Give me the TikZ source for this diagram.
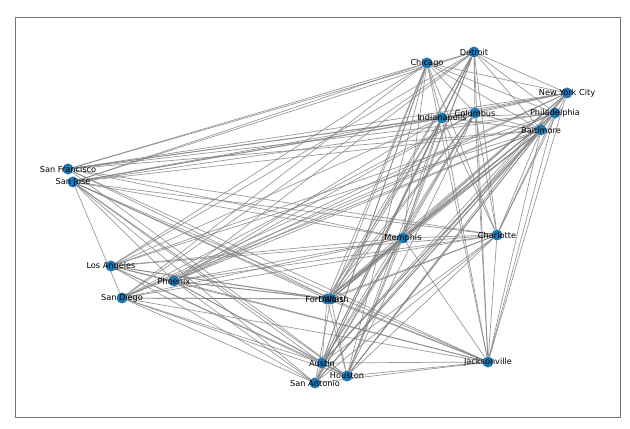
\documentclass[tikz,border=0pt]{standalone}
\usepackage{fontspec}
\setmainfont{DejaVu Sans}
\usetikzlibrary{backgrounds}
\definecolor{nodeblue}{HTML}{1F77B4}
\tikzset{
	city/.style={circle,fill=nodeblue,inner sep=0pt,minimum size=0.33cm},
	lbl/.style={font=\fontsize{7}{8}\selectfont,inner sep=0pt},
	edge/.style={gray,opacity=0.8,line width=0.6pt},
}
\begin{document}
\begin{tikzpicture}[x=0.03cm,y=-0.03cm]
	\useasboundingbox (0,0) rectangle (630,429);
	\draw[black!55,line width=0.7pt] (15,17) rectangle (620,417);
	%CITIES
	\node[city] (det) at (474,52) {};
	\node[city] (chi) at (427,63) {};
	\node[city] (nyc) at (567,93) {};
	\node[city] (col) at (475,113) {};
	\node[city] (ind) at (442,118) {};
	\node[city] (phi) at (555,113) {};
	\node[city] (bal) at (541,130) {};
	\node[city] (sf) at (68,169) {};
	\node[city] (sj) at (73,182) {};
	\node[city] (la) at (111,266) {};
	\node[city] (phx) at (174,281) {};
	\node[city] (sd) at (122,298) {};
	\node[city] (mem) at (403,238) {};
	\node[city] (cha) at (497,235) {};
	\node[city] (fw) at (327,299) {};
	\node[city] (dal) at (331,299) {};
	\node[city] (aus) at (322,363) {};
	\node[city] (hou) at (347,376) {};
	\node[city] (sa) at (315,383) {};
	\node[city] (jax) at (488,362) {};
	%ROUTES
	\begin{scope}[on background layer]
	\foreach \a/\b in {sf/chi,sf/det,sf/nyc,sf/col,sf/ind,sf/phi,sf/bal,sf/mem,sf/cha,sf/dal,sf/hou,sf/jax,
		sj/det,sj/chi,sj/ind,sj/col,sj/bal,sj/phi,sj/nyc,sj/mem,sj/cha,sj/fw,sj/dal,sj/aus,sj/hou,sj/sa,sj/phx,sj/sd,sj/jax,
		la/det,la/chi,la/ind,la/bal,la/phi,la/mem,la/cha,la/dal,la/fw,la/aus,la/hou,la/sa,la/jax,la/phx,
		phx/det,phx/ind,phx/col,phx/bal,phx/phi,phx/nyc,phx/mem,phx/cha,phx/dal,phx/fw,phx/aus,phx/hou,phx/sa,phx/jax,
		sd/chi,sd/det,sd/col,sd/bal,sd/phi,sd/nyc,sd/mem,sd/cha,sd/dal,sd/fw,sd/aus,sd/hou,sd/sa,sd/jax,
		mem/chi,mem/det,mem/ind,mem/col,mem/bal,mem/phi,mem/nyc,mem/cha,mem/dal,mem/fw,mem/aus,mem/hou,mem/sa,mem/jax,
		cha/chi,cha/det,cha/ind,cha/col,cha/bal,cha/phi,cha/nyc,cha/fw,cha/dal,cha/aus,cha/hou,cha/sa,cha/jax,
		fw/chi,fw/det,fw/ind,fw/col,fw/bal,fw/phi,fw/nyc,fw/aus,fw/hou,fw/jax,
		dal/chi,dal/det,dal/ind,dal/col,dal/bal,dal/phi,dal/nyc,dal/hou,dal/sa,dal/jax,
		aus/chi,aus/det,aus/ind,aus/col,aus/bal,aus/phi,aus/nyc,aus/jax,aus/hou,
		hou/chi,hou/det,hou/ind,hou/col,hou/bal,hou/phi,hou/nyc,hou/jax,
		sa/chi,sa/det,sa/ind,sa/col,sa/bal,sa/phi,sa/nyc,sa/jax,
		jax/chi,jax/det,jax/ind,jax/col,jax/bal,jax/phi,jax/nyc,
		chi/nyc,chi/phi,chi/bal,chi/ind,chi/col,det/nyc,det/phi,det/bal,det/ind,det/col,
		ind/nyc,ind/phi,ind/bal,col/bal,col/nyc}
		\draw[edge] (\a) -- (\b);
	\end{scope}
	%NAMES
	\node[lbl] at (det) {Detroit};
	\node[lbl] at (chi) {Chicago};
	\node[lbl] at (nyc) {New York City};
	\node[lbl] at (col) {Columbus};
	\node[lbl] at (ind) {Indianapolis};
	\node[lbl] at (phi) {Philadelphia};
	\node[lbl] at (bal) {Baltimore};
	\node[lbl] at (sf) {San Francisco};
	\node[lbl] at (sj) {San Jose};
	\node[lbl] at (la) {Los Angeles};
	\node[lbl] at (phx) {Phoenix};
	\node[lbl] at (sd) {San Diego};
	\node[lbl] at (mem) {Memphis};
	\node[lbl] at (cha) {Charlotte};
	\node[lbl] at (fw) {Fort Worth};
	\node[lbl] at (dal) {Dallas};
	\node[lbl] at (aus) {Austin};
	\node[lbl] at (hou) {Houston};
	\node[lbl] at (sa) {San Antonio};
	\node[lbl] at (jax) {Jacksonville};
\end{tikzpicture}
\end{document}
